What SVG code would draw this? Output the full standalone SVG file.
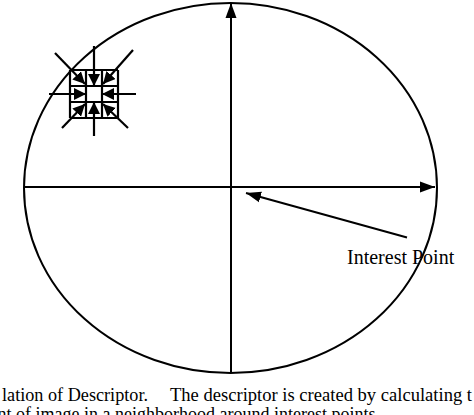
<svg xmlns="http://www.w3.org/2000/svg" width="474" height="415" viewBox="0 0 474 415">
<style>
.ln{stroke:#000;stroke-width:2;fill:none}
.gl{stroke:#000;stroke-width:2.2;fill:none}
.ar{stroke:#000;stroke-width:2;fill:none;marker-end:url(#ah)}
.sa{stroke:#000;stroke-width:2.2;fill:none;marker-end:url(#sh)}
.tx{font-family:"Liberation Serif","Times New Roman",serif;fill:#000}
</style>
<defs>
<marker id="ah" markerUnits="userSpaceOnUse" markerWidth="16" markerHeight="12" refX="15" refY="6" orient="auto">
<path d="M0,0.5 L15,6 L0,11.5 z" fill="#000"/>
</marker>
<marker id="sh" markerUnits="userSpaceOnUse" markerWidth="13" markerHeight="13" refX="12" refY="6" orient="auto">
<path d="M0,0 L12,6 L0,12 z" fill="#000"/>
</marker>
</defs>
<rect width="474" height="415" fill="#fff"/>
<g id="ellipse">
<ellipse class="ln" cx="230.5" cy="188" rx="206.5" ry="185"/>
</g>
<g id="connectors">
<line class="ar" x1="231" y1="373" x2="231" y2="3"/>
<line class="ar" x1="24" y1="187" x2="435" y2="187"/>
<line class="ar" x1="407" y1="237.5" x2="246" y2="193"/>
</g>
<g id="descriptor">
<path class="gl" d="M70,70 H118 M70,86 H118 M70,102 H118 M70,118 H118 M70,70 V118 M86,70 V118 M102,70 V118 M118,70 V118"/>
<line class="sa" x1="94" y1="46" x2="94" y2="86"/>
<line class="sa" x1="94" y1="136" x2="94" y2="102"/>
<line class="sa" x1="49" y1="94" x2="86" y2="94"/>
<line class="sa" x1="136" y1="94" x2="102" y2="94"/>
<line class="sa" x1="55" y1="53" x2="85" y2="84"/>
<line class="sa" x1="133" y1="50" x2="103" y2="84"/>
<line class="sa" x1="62" y1="128" x2="85" y2="104"/>
<line class="sa" x1="128" y1="128" x2="103" y2="104"/>
</g>
<g id="label">
<text class="tx" x="347" y="264" font-size="20">Interest Point</text>
</g>
<g id="caption">
<text class="tx" x="2" y="401" font-size="18" textLength="146" lengthAdjust="spacingAndGlyphs">lation of Descriptor.</text>
<text class="tx" x="170" y="401" font-size="18.4" textLength="302" lengthAdjust="spacingAndGlyphs">The descriptor is created by calculating t</text>
<text class="tx" x="-2.5" y="420" font-size="18">nt of image in a neighborhood around interest points.</text>
</g>
</svg>
